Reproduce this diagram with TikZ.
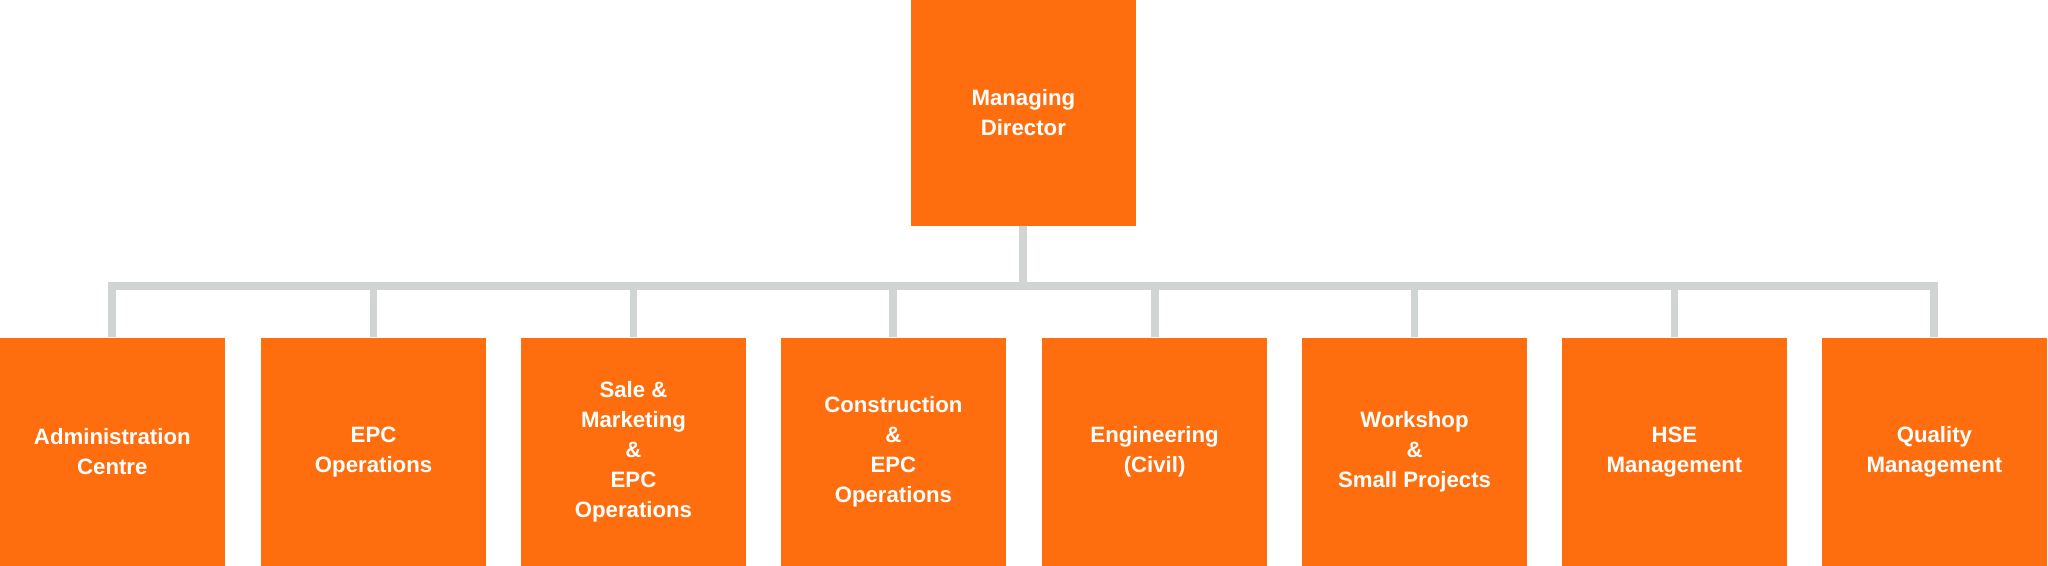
\documentclass[tikz,border=0pt]{standalone}
\usepackage{fontspec}
\setmainfont{Liberation Sans}
\definecolor{org}{HTML}{FF6E0E}
\definecolor{lin}{HTML}{D0D5D3}
\begin{document}
\begin{tikzpicture}[x=1pt,y=1pt,
  box/.style={fill=org,text=white,font=\bfseries\fontsize{17}{23}\selectfont,align=center,inner sep=0pt,minimum width=172pt},
  conn/.style={draw=lin,line width=6pt}]
\useasboundingbox (0,0) rectangle (1568,-433);
\node[box,minimum height=173pt] (md) at (783.5,-86.5) {Managing\\Director};
\foreach \i/\x/\t in {1/86/{Administration\\Centre},2/286/{EPC\\Operations},3/485/{Sale \&\\Marketing\\\&\\EPC\\Operations},4/684/{Construction\\\&\\EPC\\Operations},5/884/{Engineering\\(Civil)},6/1083/{Workshop\\\&\\Small Projects},7/1282/{HSE\\Management},8/1481/{Quality\\Management}}{
  \node[box,minimum height=175pt] (b\i) at (\x,-346) {\t};
}
\coordinate (bar) at (783.5,-219);
\foreach \i in {1,...,8}{
  \draw[conn] (md.south) -- (bar) -| (b\i.north);
}
\end{tikzpicture}
\end{document}
